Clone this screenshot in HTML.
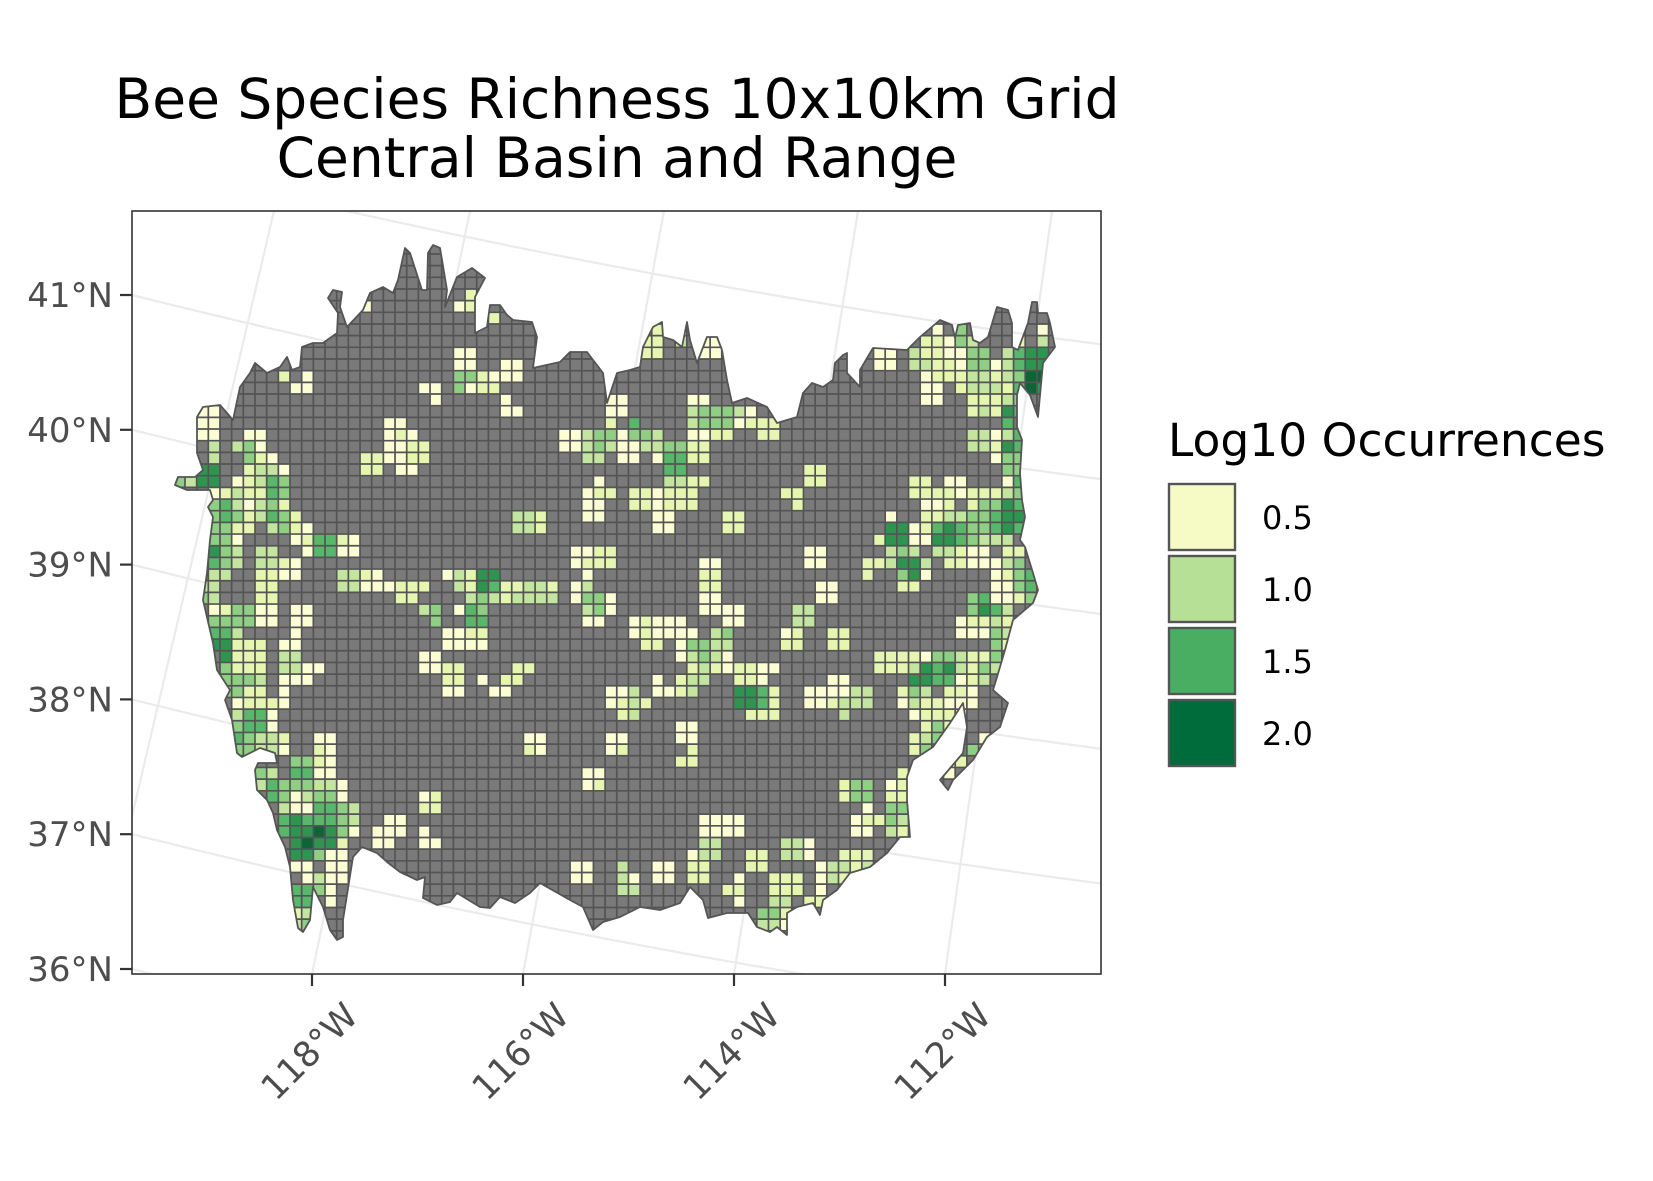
<!DOCTYPE html>
<html><head><meta charset="utf-8"><title>Bee Species Richness</title>
<style>
html,body{margin:0;padding:0;background:#fff;overflow:hidden;width:1653px;height:1181px;}
svg{display:block;font-family:"DejaVu Sans","Liberation Sans",sans-serif;}
</style></head>
<body>
<svg id="chart" width="1653" height="1181" viewBox="0 0 1653 1181" xmlns="http://www.w3.org/2000/svg">
  <rect x="0" y="0" width="1653" height="1181" fill="#fff"/>
  <text x="617" y="118" font-size="55" text-anchor="middle" fill="#000">Bee Species Richness 10x10km Grid</text>
  <text x="617" y="177" font-size="55" text-anchor="middle" fill="#000">Central Basin and Range</text>
  <defs>
    <clipPath id="panelClip"><rect x="132" y="211" width="969" height="763"/></clipPath>
    <clipPath id="mapClip"><polygon id="mapPoly"/></clipPath>
  </defs>
  <rect x="132" y="211" width="969" height="763" fill="#fff"/>
  <g id="graticule" clip-path="url(#panelClip)"></g>
  <g id="mapLayer" clip-path="url(#mapClip)"></g>
  <polygon id="mapOutline" fill="none" stroke="#555" stroke-width="1.8" stroke-linejoin="round"/>
  <rect x="132" y="211" width="969" height="763" fill="none" stroke="#333" stroke-width="1.6"/>
  <g id="axes"></g>
  <g id="legend">
    <text x="1168" y="456" font-size="45.5" fill="#000">Log10 Occurrences</text>
  </g>
</svg>
<script>
// ---- data ----
const levelColors = ["#7a7a7a","#fbfdd3","#e6f5b0","#c3e59f","#8fcf83","#58b76a","#2e9550","#0b6535"];
const legendValues = ["0.5","1.0","1.5","2.0"];
const legendColors = ["#f6fbc6","#b6e096","#4aae62","#006b3b"];
const latTicks = [41,40,39,38,37,36];
const lonTicks = [118,116,114,112];
// colored grid cells per row: "startCol:levels" (0 = no record)
const rowRuns = [
"","","","",
"25:2",
"16:1,24:12",
"27:2",
"41:202,65:104,74:1",
"40:2203011,64:22143,72:203",
"24:11,40:2200011,60:110322114403566",
"24:110011,60:110332214413566",
"9:201,24:442111,64:12223323477",
"10:11,21:1104122,64:11023332576",
"22:1,28:1,37:11,44:11,64:110022234",
"2:11,28:11,37:11,44:344431,68:23265",
"2:11,18:11,37:205,44:34441222,71:5",
"2:11,6:11,18:121,33:113441443,44:11220022,68:33135",
"3:30341,18:1122,33:1134311334422,68:33265",
"3:300421,16:221122,35:33011015522,70:144",
"2:66002331,16:22011,42:55,54:22,71:44",
"0:4366012354,36:1,42:3322,54:22,63:22011,71:15",
"3:1232254,35:1220221222,52:22,63:2222122234",
"3:4531342,35:1100221222,53:2,64:112024465",
"3:45423542,29:332,35:11,41:11,47:22,61:100223344566",
"3:442203421,29:332,41:11,47:22,61:661256544565",
"3:441,10:125521,60:266116654333",
"3:6430330015511,34:1122,54:11,61:343033211022",
"3:54303321,34:1222,45:11,54:11,59:22366302211134",
"3:33002211,14:3321,23:13266,35:1,45:22,59:200461,70:1245",
"2:3300022,14:33111222,24:326522332013,45:22,55:11,62:22,70:1145",
"2:4300022,19:22,25:3432333301441,45:11,55:11,68:451124",
"3:124411011,21:340154,35:341,45:1111,53:33,68:4653",
"3:444411011,22:40055,35:110012111,47:11,53:33,67:12232",
"3:553,10:1,23:1122,39:121111034,52:12,56:22,67:11143",
"3:66222011,23:1111,40:22014433,52:22,56:22,70:42",
"4:6222033,21:11,43:13431,60:22221443224",
"4:422203311,21:1122,29:22,44:23212211,60:22236563243",
"4:44430111,23:2201022,41:1023300221,56:11,63:6655123",
"4:442201,23:110011,37:11301123,48:6652,54:111133,62:2430221",
"5:12221,37:1232,48:6652,54:112333,62:1322111",
"5:3551,38:23,49:222,57:3,63:12222",
"5:4551,43:11,64:242",
"5:54332,12:11,30:11,37:11,43:11,63:234,69:12",
"5:44331,12:21,30:21,37:12,44:2,63:24,68:44",
"10:4421,43:22,66:12",
"7:4305511,35:11,62:2,66:1",
"7:35444331,35:12,57:244012",
"8:5413441,21:12,57:244022",
"9:3115543,21:22,59:1044",
"9:5655543,18:11,45:1111,58:12243",
"9:5667641011101,45:1111,58:11032",
"10:67662,17:110011,45:33,52:331",
"10:66411,44:13300220331,57:222",
"10:11011,34:11003,41:11022,49:22,55:13323",
"11:1311,34:11,38:31011022,48:1002220132",
"10:5541,38:33,47:22,51:22201",
"10:5501,48:1,51:33022",
"10:23,50:442",
"10:34,50:331",
""
];
// ---- geometry ----
const NS="http://www.w3.org/2000/svg";
const GX0=173.3, GY0=242.3, CS=11.67, NCOL=77, NROW=60;
const PX0=132, PY0=211, PX1=1101, PY1=974;
function latY(lat){ return 295 + (41-lat)*134.8; }
function lonBottomX(lon){ return 312 + (118-lon)*105.5; }
function lonTopX(lon){ return 470 + (118-lon)*97; }
function colX(c){ return GX0 + c*CS; }
function rowY(r){ return GY0 + r*CS; }
function mk(tag, attrs, parent){
  const e=document.createElementNS(NS,tag);
  for(const k in attrs) e.setAttribute(k, attrs[k]);
  parent.appendChild(e); return e;
}
const outline = "175,485 178,477 195,477 203,470 197,453 197,417 203,407 220,405 233,420 240,387 250,373 255,363 267,373 280,367 287,357 292,370 300,367 302,347 313,343 323,343 337,333 338,313 328,298 333,290 342,292 340,307 347,327 363,310 370,293 383,287 393,293 398,280 405,248 410,253 422,290 427,290 428,253 433,245 440,248 447,290 445,307 457,277 472,268 485,278 475,297 475,333 487,327 490,305 500,305 507,315 513,320 532,322 537,337 533,368 560,362 570,352 587,352 603,373 607,403 617,373 630,370 640,367 643,347 653,327 662,322 663,337 673,340 682,347 687,322 690,340 697,363 707,337 717,337 722,350 727,380 732,403 747,398 767,407 777,423 797,417 803,393 812,383 823,387 833,380 835,363 843,355 847,353 847,373 860,387 860,370 873,348 907,350 920,337 940,320 952,325 955,338 958,325 970,323 973,340 980,343 988,337 997,307 1008,310 1012,323 1012,347 1018,350 1028,323 1032,302 1037,302 1038,313 1047,313 1050,323 1055,347 1043,363 1038,417 1030,395 1020,383 1017,395 1017,427 1022,440 1020,473 1022,500 1025,517 1020,540 1025,547 1033,573 1038,590 1033,603 1013,620 1005,650 997,677 993,690 1008,703 1000,727 987,737 973,760 953,780 948,790 940,780 963,753 967,727 963,703 950,723 933,747 913,760 907,777 907,800 910,837 900,837 887,853 870,867 850,873 837,890 823,900 820,915 813,903 797,907 787,913 787,935 777,927 770,932 757,927 748,913 727,913 708,918 703,900 690,887 680,903 660,910 640,907 620,917 603,922 593,930 583,907 570,900 540,883 530,893 515,903 500,897 490,908 480,907 457,893 450,902 437,905 423,898 425,877 417,880 400,872 387,862 377,853 362,847 353,857 343,920 343,937 337,940 330,930 323,907 313,887 310,920 303,932 298,928 293,900 290,867 285,847 277,830 273,813 267,800 257,790 255,770 258,763 277,763 275,753 260,748 242,757 237,753 232,720 225,700 230,690 217,670 213,643 203,600 207,573 210,540 213,517 208,507 213,500 210,490 187,490";
document.getElementById('mapPoly').setAttribute('points', outline);
document.getElementById('mapOutline').setAttribute('points', outline);

// graticule
const grat=document.getElementById('graticule');
for(let lat=35; lat<=43; lat++){
  const y0=latY(lat); let d="";
  for(let x=PX0-40; x<=PX1+40; x+=10){
    const t=x-PX0; const y=y0+0.25*t-0.0000619*t*t;
    d += (d?" L":"M")+x.toFixed(1)+" "+y.toFixed(1);
  }
  const p=mk('path',{d:d,fill:"none",stroke:"#ebebeb","stroke-width":2.2},grat);
  
  
}
for(let lon=110; lon<=120; lon++){
  if(lon%2) continue;
  const xb=lonBottomX(lon), xt=(lon===120)?274:lonTopX(lon);
  const xb2=(lon===120)?95:xb;
  const p=mk('line',{x1:xb2,y1:PY1,x2:xt,y2:PY0,stroke:"#ebebeb","stroke-width":2.2},grat);
  
  
}

// map cells
const layer=document.getElementById('mapLayer');
const bg=mk('rect',{x:150,y:230,width:920,height:730,fill:levelColors[0]},layer);


rowRuns.forEach((rowStr,r)=>{
  if(!rowStr) return;
  rowStr.split(',').forEach(run=>{
    const [c0,lv]=run.split(':');
    for(let i=0;i<lv.length;i++){
      const v=+lv[i]; if(!v) continue;
      const cell=mk('rect',{x:colX(+c0+i).toFixed(2),y:rowY(r).toFixed(2),width:CS.toFixed(2),height:CS.toFixed(2),fill:levelColors[v]},layer);
      
      
    }
  });
});
let gd="";
for(let c=0;c<=NCOL;c++){ gd+="M"+colX(c).toFixed(2)+" "+GY0+" V"+rowY(NROW).toFixed(2)+" "; }
for(let r=0;r<=NROW;r++){ gd+="M"+GX0+" "+rowY(r).toFixed(2)+" H"+colX(NCOL).toFixed(2)+" "; }
const gl=mk('path',{d:gd,fill:"none",stroke:"#545454","stroke-width":1.7},layer);



// axes
const axes=document.getElementById('axes');
latTicks.forEach(lat=>{
  const y=latY(lat);
  const t=mk('line',{x1:120,y1:y,x2:PX0,y2:y,stroke:"#333","stroke-width":2.2},axes);
  
  
  const tx=mk('text',{x:113,y:y+12,"font-size":34,"text-anchor":"end",fill:"#4d4d4d"},axes);
  tx.textContent=lat+"°N";
  
  
});
lonTicks.forEach(lon=>{
  const x=lonBottomX(lon);
  const t=mk('line',{x1:x,y1:PY1,x2:x,y2:PY1+12,stroke:"#333","stroke-width":2.2},axes);
  
  
  const ax=x+48, ay=1018;
  const tx=mk('text',{x:ax,y:ay,"font-size":35,"text-anchor":"end",fill:"#4d4d4d",transform:"rotate(-45 "+ax+" "+ay+")"},axes);
  tx.textContent=lon+"°W";
  
  
});

// legend
const leg=document.getElementById('legend');
legendValues.forEach((v,i)=>{
  const y=484+i*72;
  const k=mk('rect',{x:1169,y:y,width:66,height:66,fill:legendColors[i],stroke:"#555","stroke-width":2.4},leg);
  
  
  const tx=mk('text',{x:1262,y:y+45,"font-size":32,fill:"#000"},leg);
  tx.textContent=v;
  
  
});
</script>
</body></html>
